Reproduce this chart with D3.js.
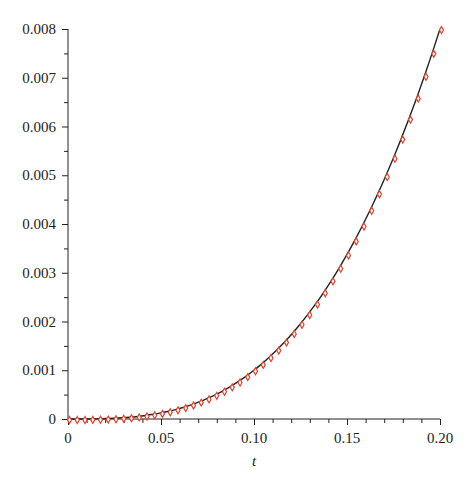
<!DOCTYPE html>
<html><head><meta charset="utf-8">
<script src="https://cdn.jsdelivr.net/npm/d3@7"></script>
<style>body{margin:0;background:#fff}</style>
</head><body><svg id="c" width="474" height="488"></svg>
<script>
const tValues=[0,0.004167,0.008333,0.0125,0.016667,0.020833,0.025,0.029167,0.033333,0.0375,0.041667,0.045833,0.05,0.054167,0.058333,0.0625,0.066667,0.070833,0.075,0.079167,0.083333,0.0875,0.091667,0.095833,0.1,0.104167,0.108333,0.1125,0.116667,0.120833,0.125,0.129167,0.133333,0.1375,0.141667,0.145833,0.15,0.154167,0.158333,0.1625,0.166667,0.170833,0.175,0.179167,0.183333,0.1875,0.191667,0.195833,0.2];
const yValues=[0,7.2e-8,5.8e-7,1.95e-6,4.63e-6,9.04e-6,1.5625e-5,2.48e-5,3.70e-5,5.27e-5,7.23e-5,9.63e-5,1.25e-4,1.589e-4,1.985e-4,2.441e-4,2.963e-4,3.554e-4,4.219e-4,4.962e-4,5.787e-4,6.699e-4,7.703e-4,8.801e-4,1.0e-3,1.1303e-3,1.2714e-3,1.4238e-3,1.588e-3,1.7643e-3,1.9531e-3,2.155e-3,2.3704e-3,2.5996e-3,2.8432e-3,3.1015e-3,3.375e-3,3.6641e-3,3.9693e-3,4.291e-3,4.6296e-3,4.9856e-3,5.3594e-3,5.7514e-3,6.162e-3,6.5918e-3,7.0411e-3,7.5104e-3,8.0e-3];
const xTicks=[0,0.05,0.10,0.15,0.20];
const xTickLabels=["0","0.05","0.10","0.15","0.20"];
const yTicks=[0,0.001,0.002,0.003,0.004,0.005,0.006,0.007,0.008];
const yTickLabels=["0","0.001","0.002","0.003","0.004","0.005","0.006","0.007","0.008"];
const FONT="'Liberation Serif','Times New Roman',serif";
const svg=d3.select("#c");
const x=d3.scaleLinear().domain([0,0.2]).range([68,440]);
const y=d3.scaleLinear().domain([0,0.008]).range([419,29]);
const data=tValues.map((t,i)=>[t,yValues[i]]);
const gx=svg.append("g").attr("transform","translate(0,419)");
gx.call(d3.axisBottom(x).tickValues(d3.range(0,0.2001,0.01)).tickSize(4).tickFormat(""));
gx.call(g=>g.selectAll(".tick").filter(d=>xTicks.some(v=>Math.abs(v-d)<1e-6)).select("line").attr("y2",6));
xTickLabels.forEach((l,i)=>svg.append("text").attr("x",x(xTicks[i])).attr("y",419+24).attr("text-anchor","middle")
 .attr("font-family",FONT).attr("font-size",15).attr("fill","#222").text(l));
gx.select(".domain").attr("d","M68,0H440");
const gy=svg.append("g").attr("transform","translate(68,0)");
gy.call(d3.axisLeft(y).tickValues(d3.range(0,0.00801,0.0005)).tickSize(4).tickFormat(""));
gy.call(g=>g.selectAll(".tick").filter(d=>yTicks.some(v=>Math.abs(v-d)<1e-9)).select("line").attr("x2",-6));
yTickLabels.forEach((l,i)=>svg.append("text").attr("x",68-12).attr("y",y(yTicks[i])+5).attr("text-anchor","end")
 .attr("font-family",FONT).attr("font-size",15).attr("fill","#222").text(l));
gy.select(".domain").attr("d","M0,419V29");
svg.selectAll(".domain,.tick line").attr("stroke","#222");
svg.append("text").attr("x",254).attr("y",466).attr("text-anchor","middle").attr("font-style","italic")
 .attr("font-family",FONT).attr("font-size",15).attr("fill","#222").text("t");
svg.append("path").datum(data).attr("fill","none").attr("stroke","#222").attr("stroke-width",1.4)
 .attr("d",d3.line().x(d=>x(d[0])).y(d=>y(d[1])).curve(d3.curveMonotoneX));
svg.selectAll(".m").data(data).join("path").attr("class","m")
 .attr("transform",d=>`translate(${x(d[0])+1.5},${y(d[1])+1})`)
 .attr("d",d3.symbol(d3.symbolDiamond,14)).attr("fill","#fff").attr("stroke","#e8402a").attr("stroke-width",1.2);
</script></body></html>
